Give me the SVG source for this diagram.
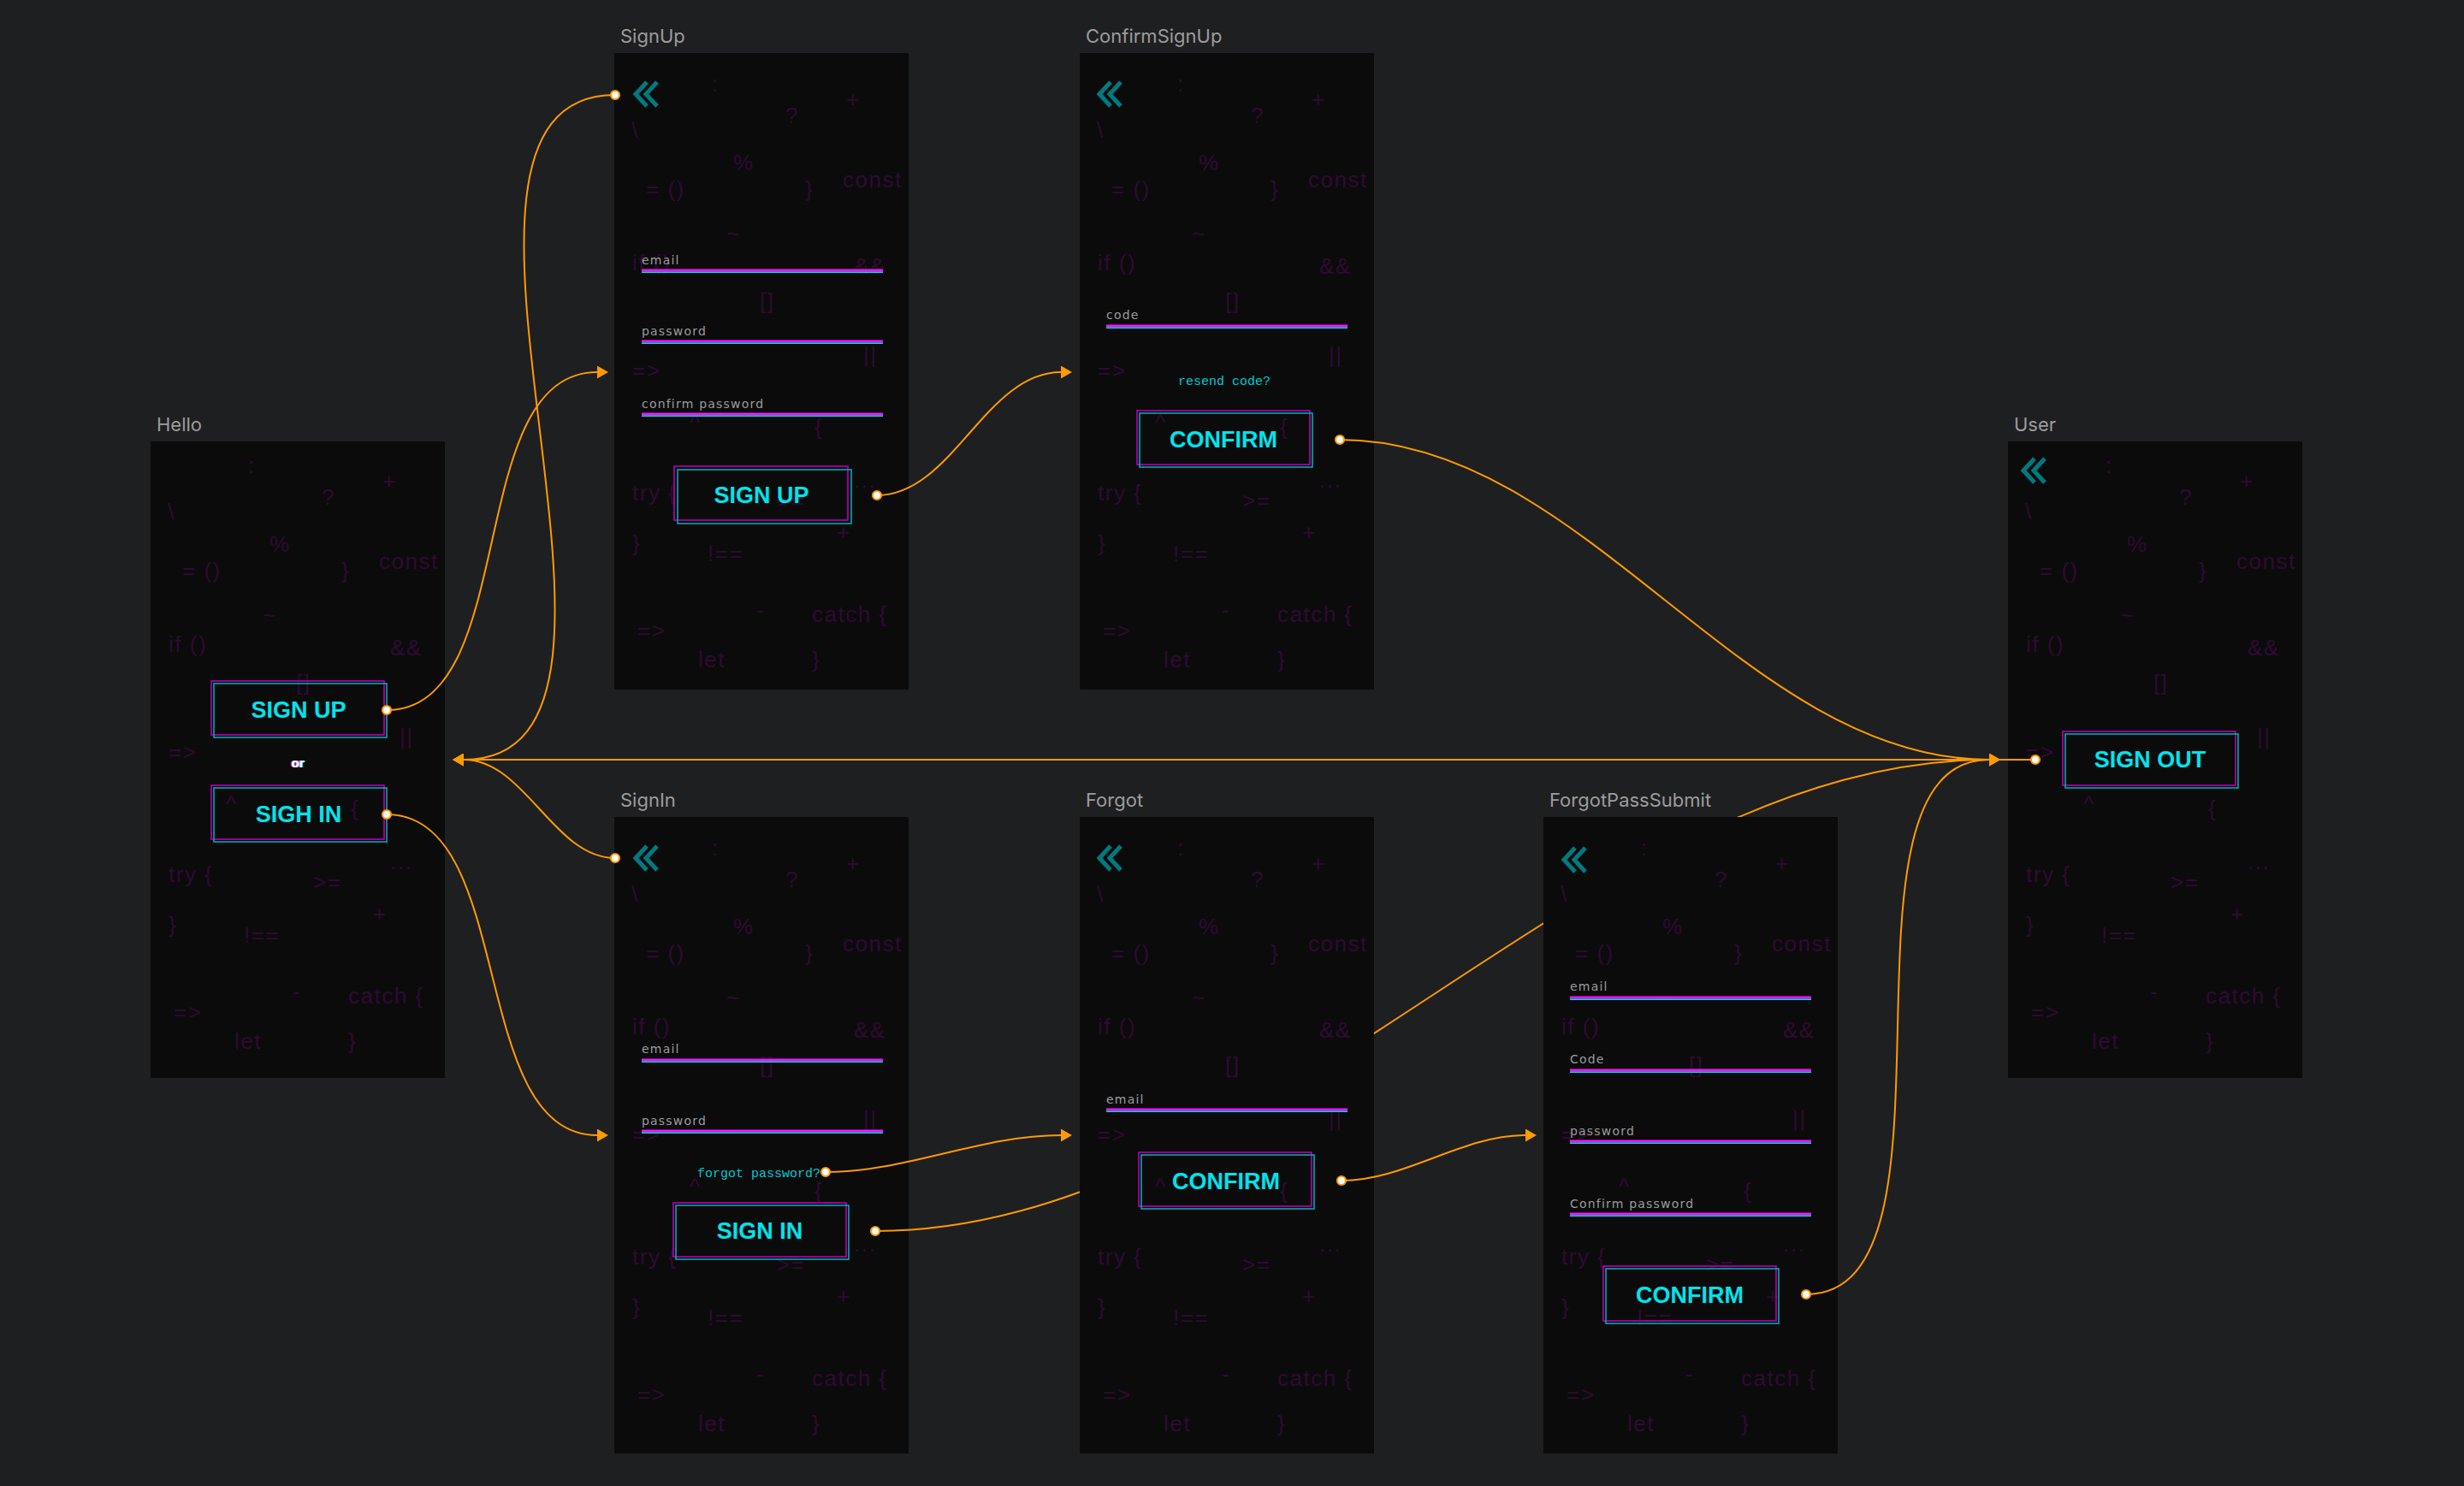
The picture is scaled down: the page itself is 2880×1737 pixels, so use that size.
<svg xmlns="http://www.w3.org/2000/svg" width="2880" height="1737" viewBox="0 0 2880 1737">
<style>
.canvas{fill:#1e1f21}
.panel{fill:#0b0b0c}
.title{font-family:Inter,Roboto,"Liberation Sans",sans-serif;font-size:22px;fill:#9c9c9c}
.sym{font-family:"Liberation Sans",sans-serif;font-size:26px;fill:#300a33;letter-spacing:1.5px}
.lbl{font-family:"DejaVu Sans",sans-serif;font-size:14px;fill:#9b9b9b;letter-spacing:1.2px}
.mono{font-family:"Liberation Mono",monospace;font-size:15px;fill:#00c8d0;text-anchor:middle}
.bm{fill:none;stroke:#b800b8;stroke-width:1.6}
.bc{fill:none;stroke:#00a9b1;stroke-width:1.6}
.bt{font-family:"Liberation Sans",sans-serif;font-weight:bold;font-size:27px;fill:#00e4ec;text-anchor:middle}
.im{fill:#ff10ff}
.ic{fill:#00e0e8}
.chev{fill:none;stroke:#007a7f;stroke-width:5}
.conn{fill:none;stroke:#ff9a00;stroke-width:2;marker-end:url(#arr)}
.dot{fill:#ffffff;stroke:#ff9a00;stroke-width:2.2}
.or{font-family:"Liberation Sans",sans-serif;font-weight:bold;font-size:15px;fill:#ffffff;text-anchor:middle}
</style>
<defs>
<marker id="arr" viewBox="0 0 13 15" refX="0" refY="7.5" markerWidth="13" markerHeight="15" markerUnits="userSpaceOnUse" orient="auto">
<path d="M0,0 L13,7.5 L0,15 Z" fill="#ff9a00"/>
</marker>
<path id="chevron" class="chev" d="M16,1 L3,15 L16,29 M28,1 L15,15 L28,29"/>
<filter id="glitch" x="-20%" y="-20%" width="140%" height="140%">
<feDropShadow dx="-1.2" dy="0" stdDeviation="0" flood-color="#ff00ff"/>
<feDropShadow dx="1.2" dy="0" stdDeviation="0" flood-color="#00e5ee"/>
</filter>
<clipPath id="outsidePanels">
<path clip-rule="evenodd" d="M0,0 H2880 V1737 H0 Z M1262,955 h344 v744 h-344 Z M1804,955 h344 v744 h-344 Z"/>
</clipPath>
</defs>
<rect class="canvas" x="0" y="0" width="2880" height="1737"/>

<!-- Hello -->
<g id="hello" transform="translate(176,516)">
<text class="title" x="7" y="-12">Hello</text>
<rect class="panel" x="0" y="0" width="344" height="744"/>
<g>
<text class="sym" x="114" y="37">:</text><text class="sym" x="271" y="55">+</text><text class="sym" x="200" y="74">?</text><text class="sym" x="20" y="91">\</text><text class="sym" x="139" y="129">%</text><text class="sym" x="37" y="160">= ()</text><text class="sym" x="223" y="160">}</text><text class="sym" x="267" y="149">const</text><text class="sym" x="131" y="212">~</text><text class="sym" x="21" y="246">if ()</text><text class="sym" x="280" y="250">&amp;&amp;</text><text class="sym" x="170" y="291">[]</text><text class="sym" x="291" y="354">||</text><text class="sym" x="21" y="372">=&gt;</text><text class="sym" x="88" y="433">^</text><text class="sym" x="234" y="438">{</text><text class="sym" x="21" y="515">try {</text><text class="sym" x="190" y="524">&gt;=</text><text class="sym" x="280" y="500">...</text><text class="sym" x="260" y="561">+</text><text class="sym" x="21" y="574">}</text><text class="sym" x="109" y="586">!==</text><text class="sym" x="166" y="652">-</text><text class="sym" x="231" y="657">catch {</text><text class="sym" x="27" y="676">=&gt;</text><text class="sym" x="98" y="710">let</text><text class="sym" x="231" y="710">}</text>
</g>
<rect class="bm" x="71" y="280" width="202" height="63"/>
<rect class="bc" x="74" y="283" width="202" height="63"/>
<text class="bt" x="173" y="323">SIGN UP</text>
<text class="or" x="172" y="381" filter="url(#glitch)">or</text>
<rect class="bm" x="71" y="402" width="202" height="63"/>
<rect class="bc" x="74" y="405" width="202" height="63"/>
<text class="bt" x="173" y="445">SIGH IN</text>
</g>

<!-- SignUp -->
<g id="signup" transform="translate(718,62)">
<text class="title" x="7" y="-12">SignUp</text>
<rect class="panel" x="0" y="0" width="344" height="744"/>
<g transform="translate(0,8)">
<text class="sym" x="114" y="37">:</text><text class="sym" x="271" y="55">+</text><text class="sym" x="200" y="74">?</text><text class="sym" x="20" y="91">\</text><text class="sym" x="139" y="129">%</text><text class="sym" x="37" y="160">= ()</text><text class="sym" x="223" y="160">}</text><text class="sym" x="267" y="149">const</text><text class="sym" x="131" y="212">~</text><text class="sym" x="21" y="246">if ()</text><text class="sym" x="280" y="250">&amp;&amp;</text><text class="sym" x="170" y="291">[]</text><text class="sym" x="291" y="354">||</text><text class="sym" x="21" y="372">=&gt;</text><text class="sym" x="88" y="433">^</text><text class="sym" x="234" y="438">{</text><text class="sym" x="21" y="515">try {</text><text class="sym" x="190" y="524">&gt;=</text><text class="sym" x="280" y="500">...</text><text class="sym" x="260" y="561">+</text><text class="sym" x="21" y="574">}</text><text class="sym" x="109" y="586">!==</text><text class="sym" x="166" y="652">-</text><text class="sym" x="231" y="657">catch {</text><text class="sym" x="27" y="676">=&gt;</text><text class="sym" x="98" y="710">let</text><text class="sym" x="231" y="710">}</text>
</g>
<use href="#chevron" x="22" y="33"/>
<text class="lbl" x="32" y="247">email</text>
<rect class="im" x="32" y="252.5" width="282" height="3"/><rect class="ic" x="32" y="255.5" width="282" height="1.5"/>
<text class="lbl" x="32" y="330">password</text>
<rect class="im" x="32" y="335.5" width="282" height="3"/><rect class="ic" x="32" y="338.5" width="282" height="1.5"/>
<text class="lbl" x="32" y="415">confirm password</text>
<rect class="im" x="32" y="420.5" width="282" height="3"/><rect class="ic" x="32" y="423.5" width="282" height="1.5"/>
<rect class="bm" x="70" y="483" width="203" height="63"/>
<rect class="bc" x="74" y="487" width="203" height="63"/>
<text class="bt" x="172" y="526">SIGN UP</text>
</g>

<!-- ConfirmSignUp -->
<g id="confirmsignup" transform="translate(1262,62)">
<text class="title" x="7" y="-12">ConfirmSignUp</text>
<rect class="panel" x="0" y="0" width="344" height="744"/>
<g transform="translate(0,8)">
<text class="sym" x="114" y="37">:</text><text class="sym" x="271" y="55">+</text><text class="sym" x="200" y="74">?</text><text class="sym" x="20" y="91">\</text><text class="sym" x="139" y="129">%</text><text class="sym" x="37" y="160">= ()</text><text class="sym" x="223" y="160">}</text><text class="sym" x="267" y="149">const</text><text class="sym" x="131" y="212">~</text><text class="sym" x="21" y="246">if ()</text><text class="sym" x="280" y="250">&amp;&amp;</text><text class="sym" x="170" y="291">[]</text><text class="sym" x="291" y="354">||</text><text class="sym" x="21" y="372">=&gt;</text><text class="sym" x="88" y="433">^</text><text class="sym" x="234" y="438">{</text><text class="sym" x="21" y="515">try {</text><text class="sym" x="190" y="524">&gt;=</text><text class="sym" x="280" y="500">...</text><text class="sym" x="260" y="561">+</text><text class="sym" x="21" y="574">}</text><text class="sym" x="109" y="586">!==</text><text class="sym" x="166" y="652">-</text><text class="sym" x="231" y="657">catch {</text><text class="sym" x="27" y="676">=&gt;</text><text class="sym" x="98" y="710">let</text><text class="sym" x="231" y="710">}</text>
</g>
<use href="#chevron" x="20" y="33"/>
<text class="lbl" x="31" y="311">code</text>
<rect class="im" x="31" y="317.5" width="282" height="3"/><rect class="ic" x="31" y="320.5" width="282" height="1.5"/>
<text class="mono" x="169" y="388">resend code?</text>
<rect class="bm" x="67" y="418" width="202" height="63"/>
<rect class="bc" x="70" y="421" width="202" height="63"/>
<text class="bt" x="168" y="461">CONFIRM</text>
</g>

<!-- SignIn -->
<g id="signin" transform="translate(718,955)">
<text class="title" x="7" y="-12">SignIn</text>
<rect class="panel" x="0" y="0" width="344" height="744"/>
<g transform="translate(0,8)">
<text class="sym" x="114" y="37">:</text><text class="sym" x="271" y="55">+</text><text class="sym" x="200" y="74">?</text><text class="sym" x="20" y="91">\</text><text class="sym" x="139" y="129">%</text><text class="sym" x="37" y="160">= ()</text><text class="sym" x="223" y="160">}</text><text class="sym" x="267" y="149">const</text><text class="sym" x="131" y="212">~</text><text class="sym" x="21" y="246">if ()</text><text class="sym" x="280" y="250">&amp;&amp;</text><text class="sym" x="170" y="291">[]</text><text class="sym" x="291" y="354">||</text><text class="sym" x="21" y="372">=&gt;</text><text class="sym" x="88" y="433">^</text><text class="sym" x="234" y="438">{</text><text class="sym" x="21" y="515">try {</text><text class="sym" x="190" y="524">&gt;=</text><text class="sym" x="280" y="500">...</text><text class="sym" x="260" y="561">+</text><text class="sym" x="21" y="574">}</text><text class="sym" x="109" y="586">!==</text><text class="sym" x="166" y="652">-</text><text class="sym" x="231" y="657">catch {</text><text class="sym" x="27" y="676">=&gt;</text><text class="sym" x="98" y="710">let</text><text class="sym" x="231" y="710">}</text>
</g>
<use href="#chevron" x="22" y="33"/>
<text class="lbl" x="32" y="276">email</text>
<rect class="im" x="32" y="282.5" width="282" height="3"/><rect class="ic" x="32" y="285.5" width="282" height="1.5"/>
<text class="lbl" x="32" y="360">password</text>
<rect class="im" x="32" y="365.5" width="282" height="3"/><rect class="ic" x="32" y="368.5" width="282" height="1.5"/>
<text class="mono" x="169" y="421">forgot password?</text>
<rect class="bm" x="69" y="451" width="202" height="63"/>
<rect class="bc" x="72" y="454" width="202" height="63"/>
<text class="bt" x="170" y="493">SIGN IN</text>
</g>

<!-- Forgot -->
<g id="forgot" transform="translate(1262,955)">
<text class="title" x="7" y="-12">Forgot</text>
<rect class="panel" x="0" y="0" width="344" height="744"/>
<g transform="translate(0,8)">
<text class="sym" x="114" y="37">:</text><text class="sym" x="271" y="55">+</text><text class="sym" x="200" y="74">?</text><text class="sym" x="20" y="91">\</text><text class="sym" x="139" y="129">%</text><text class="sym" x="37" y="160">= ()</text><text class="sym" x="223" y="160">}</text><text class="sym" x="267" y="149">const</text><text class="sym" x="131" y="212">~</text><text class="sym" x="21" y="246">if ()</text><text class="sym" x="280" y="250">&amp;&amp;</text><text class="sym" x="170" y="291">[]</text><text class="sym" x="291" y="354">||</text><text class="sym" x="21" y="372">=&gt;</text><text class="sym" x="88" y="433">^</text><text class="sym" x="234" y="438">{</text><text class="sym" x="21" y="515">try {</text><text class="sym" x="190" y="524">&gt;=</text><text class="sym" x="280" y="500">...</text><text class="sym" x="260" y="561">+</text><text class="sym" x="21" y="574">}</text><text class="sym" x="109" y="586">!==</text><text class="sym" x="166" y="652">-</text><text class="sym" x="231" y="657">catch {</text><text class="sym" x="27" y="676">=&gt;</text><text class="sym" x="98" y="710">let</text><text class="sym" x="231" y="710">}</text>
</g>
<use href="#chevron" x="20" y="33"/>
<text class="lbl" x="31" y="335">email</text>
<rect class="im" x="31" y="340.5" width="282" height="3"/><rect class="ic" x="31" y="343.5" width="282" height="1.5"/>
<rect class="bm" x="69" y="392" width="202" height="63"/>
<rect class="bc" x="72" y="395" width="202" height="63"/>
<text class="bt" x="171" y="435">CONFIRM</text>
</g>

<!-- ForgotPassSubmit -->
<g id="forgotpasssubmit" transform="translate(1804,955)">
<text class="title" x="7" y="-12">ForgotPassSubmit</text>
<rect class="panel" x="0" y="0" width="344" height="744"/>
<g transform="translate(0,8)">
<text class="sym" x="114" y="37">:</text><text class="sym" x="271" y="55">+</text><text class="sym" x="200" y="74">?</text><text class="sym" x="20" y="91">\</text><text class="sym" x="139" y="129">%</text><text class="sym" x="37" y="160">= ()</text><text class="sym" x="223" y="160">}</text><text class="sym" x="267" y="149">const</text><text class="sym" x="131" y="212">~</text><text class="sym" x="21" y="246">if ()</text><text class="sym" x="280" y="250">&amp;&amp;</text><text class="sym" x="170" y="291">[]</text><text class="sym" x="291" y="354">||</text><text class="sym" x="21" y="372">=&gt;</text><text class="sym" x="88" y="433">^</text><text class="sym" x="234" y="438">{</text><text class="sym" x="21" y="515">try {</text><text class="sym" x="190" y="524">&gt;=</text><text class="sym" x="280" y="500">...</text><text class="sym" x="260" y="561">+</text><text class="sym" x="21" y="574">}</text><text class="sym" x="109" y="586">!==</text><text class="sym" x="166" y="652">-</text><text class="sym" x="231" y="657">catch {</text><text class="sym" x="27" y="676">=&gt;</text><text class="sym" x="98" y="710">let</text><text class="sym" x="231" y="710">}</text>
</g>
<use href="#chevron" x="21" y="35"/>
<text class="lbl" x="31" y="203">email</text>
<rect class="im" x="31" y="209.5" width="282" height="3"/><rect class="ic" x="31" y="212.5" width="282" height="1.5"/>
<text class="lbl" x="31" y="288">Code</text>
<rect class="im" x="31" y="294.5" width="282" height="3"/><rect class="ic" x="31" y="297.5" width="282" height="1.5"/>
<text class="lbl" x="31" y="372">password</text>
<rect class="im" x="31" y="377.5" width="282" height="3"/><rect class="ic" x="31" y="380.5" width="282" height="1.5"/>
<text class="lbl" x="31" y="457">Confirm password</text>
<rect class="im" x="31" y="462.5" width="282" height="3"/><rect class="ic" x="31" y="465.5" width="282" height="1.5"/>
<rect class="bm" x="70" y="525" width="202" height="64"/>
<rect class="bc" x="73" y="528" width="202" height="64"/>
<text class="bt" x="171" y="568">CONFIRM</text>
</g>

<!-- User -->
<g id="user" transform="translate(2347,516)">
<text class="title" x="7" y="-12">User</text>
<rect class="panel" x="0" y="0" width="344" height="744"/>
<g>
<text class="sym" x="114" y="37">:</text><text class="sym" x="271" y="55">+</text><text class="sym" x="200" y="74">?</text><text class="sym" x="20" y="91">\</text><text class="sym" x="139" y="129">%</text><text class="sym" x="37" y="160">= ()</text><text class="sym" x="223" y="160">}</text><text class="sym" x="267" y="149">const</text><text class="sym" x="131" y="212">~</text><text class="sym" x="21" y="246">if ()</text><text class="sym" x="280" y="250">&amp;&amp;</text><text class="sym" x="170" y="291">[]</text><text class="sym" x="291" y="354">||</text><text class="sym" x="21" y="372">=&gt;</text><text class="sym" x="88" y="433">^</text><text class="sym" x="234" y="438">{</text><text class="sym" x="21" y="515">try {</text><text class="sym" x="190" y="524">&gt;=</text><text class="sym" x="280" y="500">...</text><text class="sym" x="260" y="561">+</text><text class="sym" x="21" y="574">}</text><text class="sym" x="109" y="586">!==</text><text class="sym" x="166" y="652">-</text><text class="sym" x="231" y="657">catch {</text><text class="sym" x="27" y="676">=&gt;</text><text class="sym" x="98" y="710">let</text><text class="sym" x="231" y="710">}</text>
</g>
<use href="#chevron" x="15" y="19"/>
<rect class="bm" x="64" y="339" width="202" height="63"/>
<rect class="bc" x="67" y="342" width="202" height="63"/>
<text class="bt" x="166" y="381">SIGN OUT</text>
</g>

<!-- Connectors -->
<g id="connectors">
<path class="conn" d="M452,830 C610,830 540,435 698,435"/>
<path class="conn" d="M452,952 C604,952 546,1327 698,1327"/>
<path class="conn" d="M719,111 C448,111 813,888 542,888"/>
<path class="conn" d="M719,1003 C647,1003 614,888 542,888"/>
<path class="conn" d="M1025,579 C1113,579 1152,435 1240,435"/>
<path class="conn" d="M1566,514 C1854,514 2037,888 2325,888"/>
<path class="conn" d="M965,1370 C1060,1370 1145,1327 1240,1327"/>
<path class="conn" clip-path="url(#outsidePanels)" d="M1023,1439 C1488,1439 1860,888 2325,888"/>
<path class="conn" d="M1568,1380 C1643,1380 1708,1327 1783,1327"/>
<path class="conn" d="M2111,1513 C2311,1513 2125,888 2325,888"/>
<path class="conn" d="M2379,888 L542,888"/>
<circle class="dot" cx="452" cy="830" r="5"/>
<circle class="dot" cx="452" cy="952" r="5"/>
<circle class="dot" cx="719" cy="111" r="5"/>
<circle class="dot" cx="719" cy="1003" r="5"/>
<circle class="dot" cx="1025" cy="579" r="5"/>
<circle class="dot" cx="1566" cy="514" r="5"/>
<circle class="dot" cx="965" cy="1370" r="5"/>
<circle class="dot" cx="1023" cy="1439" r="5"/>
<circle class="dot" cx="1568" cy="1380" r="5"/>
<circle class="dot" cx="2111" cy="1513" r="5"/>
<circle class="dot" cx="2379" cy="888" r="5"/>
</g>
</svg>
